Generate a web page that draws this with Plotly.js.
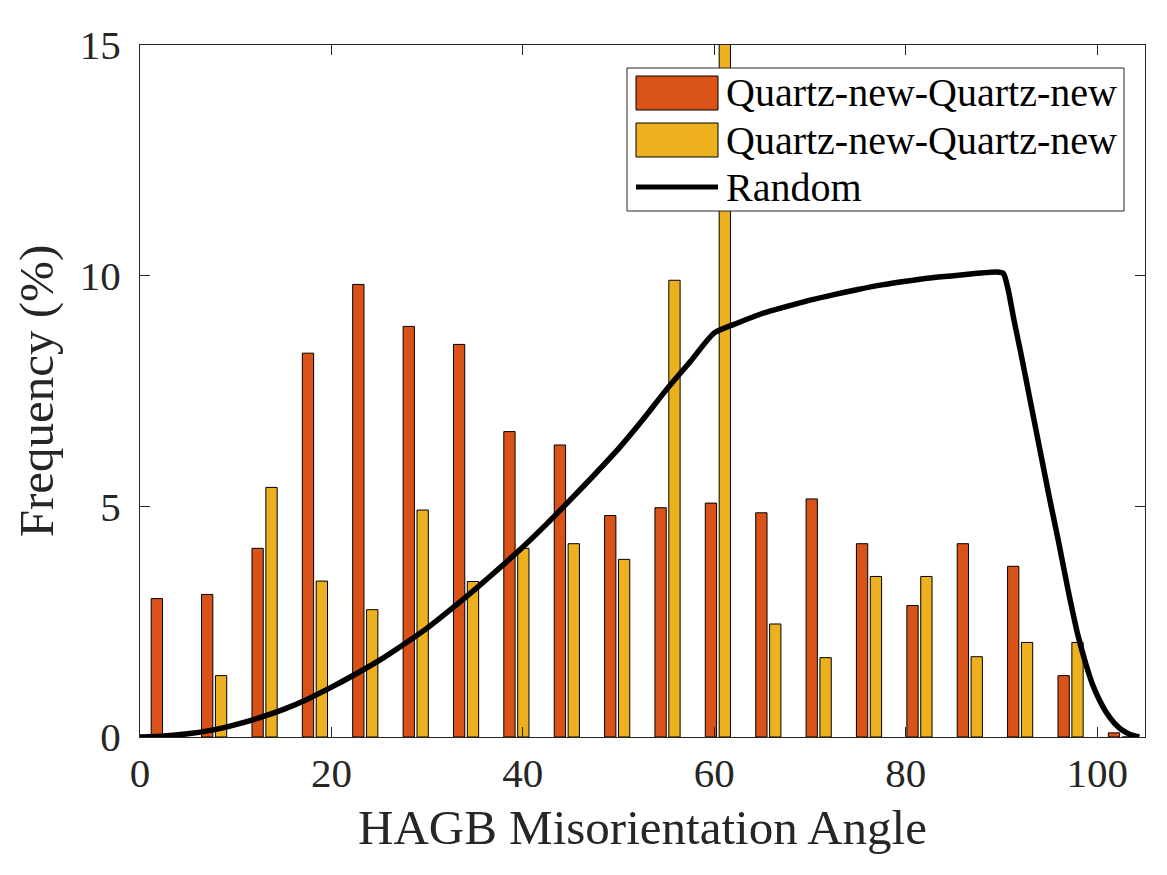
<!DOCTYPE html>
<html>
<head>
<meta charset="utf-8">
<script src="https://cdn.plot.ly/plotly-3.0.1.min.js"></script>
<style>
  html, body { margin: 0; padding: 0; background: #fff; }
  #chart { width: 1167px; height: 875px; }
</style>
</head>
<body>
<div id="chart"></div>
<script>
// Misorientation angle bins (degrees, bin centres)
const binCenters = [2.5, 7.76, 13.03, 18.29, 23.55, 28.82, 34.08, 39.34, 44.61, 49.87,
                    55.13, 60.39, 65.66, 70.92, 76.18, 81.45, 86.71, 91.97, 97.24, 102.5];

// Frequency (%) for the two boundary populations
const seriesA = [3.0, 3.09, 4.09, 8.32, 9.81, 8.90, 8.51, 6.62, 6.33, 4.80,
                 4.97, 5.07, 4.86, 5.16, 4.19, 2.85, 4.19, 3.70, 1.33, 0.09];
const seriesB = [0, 1.33, 5.41, 3.38, 2.76, 4.92, 3.37, 4.09, 4.19, 3.85,
                 9.90, 39.8, 2.45, 1.72, 3.48, 3.48, 1.74, 2.05, 2.05, 0];

// Random (uncorrelated) misorientation distribution
const randomAngle = [0, 2.5, 5, 7.5, 10, 12.5, 15, 17.5, 20, 22.5, 25, 27.5, 30, 32.5, 35,
                     37.5, 40, 42.5, 45, 47.5, 50, 52.5, 55, 57.5, 60,
                     62.5, 65, 67.5, 70, 72.5, 75, 77.5, 80, 82.5, 85, 87.5, 89.5, 90.2,
                     90.7, 91.3, 92, 93, 94, 95, 96, 97, 98, 98.8, 99.5, 100.2, 101,
                     101.8, 102.6, 103.4, 104.4];
const randomFreq = [0, 0.02, 0.07, 0.15, 0.27, 0.42, 0.6, 0.82, 1.08, 1.36, 1.66, 2.0, 2.36,
                    2.77, 3.2, 3.65, 4.12, 4.62, 5.15, 5.69, 6.25, 6.87, 7.53, 8.14, 8.76,
                    8.98, 9.18, 9.33, 9.47, 9.59, 9.70, 9.80, 9.88, 9.95, 10.0, 10.05, 10.08, 10.05,
                    9.7, 9.05, 8.35, 7.3, 6.25, 5.2, 4.2, 3.15, 2.2, 1.6, 1.15, 0.82, 0.52,
                    0.3, 0.15, 0.06, 0.0];

const names = ['Quartz-new-Quartz-new', 'Quartz-new-Quartz-new', 'Random'];
const colors = ['#D95319', '#EDB120', '#000000'];

const FONT = 'Liberation Serif, Times New Roman, serif';
const INK = '#262626';

const traces = [
  {
    type: 'bar', x: binCenters, y: seriesA, name: names[0],
    width: 1.18, offset: -1.33,
    marker: { color: colors[0], line: { color: '#000', width: 1 } },
    showlegend: false, hoverinfo: 'x+y'
  },
  {
    type: 'bar', x: binCenters, y: seriesB, name: names[1],
    width: 1.18, offset: 0.12,
    marker: { color: colors[1], line: { color: '#000', width: 1 } },
    showlegend: false, hoverinfo: 'x+y'
  },
  {
    type: 'scatter', mode: 'lines', x: randomAngle, y: randomFreq, name: names[2],
    line: { color: colors[2], width: 5.5, shape: 'spline', smoothing: 0.6 },
    showlegend: false
  }
];

// plot area in pixels
const L = 140, R = 1145, T = 45, B = 737;
const px = v => (v - L) / (R - L);
const py = v => (B - v) / (B - T);

// legend box drawn with shapes
const shapes = [
  { type: 'rect', xref: 'paper', yref: 'paper', x0: px(627), x1: px(1124), y0: py(211), y1: py(68),
    line: { color: INK, width: 1 }, fillcolor: '#fff', layer: 'above' },
  { type: 'rect', xref: 'paper', yref: 'paper', x0: px(636), x1: px(718), y0: py(110), y1: py(76),
    line: { color: '#000', width: 1 }, fillcolor: colors[0], layer: 'above' },
  { type: 'rect', xref: 'paper', yref: 'paper', x0: px(636), x1: px(718), y0: py(157), y1: py(123),
    line: { color: '#000', width: 1 }, fillcolor: colors[1], layer: 'above' },
  { type: 'line', xref: 'paper', yref: 'paper', x0: px(636), x1: px(718), y0: py(187), y1: py(187),
    line: { color: colors[2], width: 5 }, layer: 'above' }
];
const rowY = [93, 140, 187];
const annotations = names.map((n, i) => ({
  xref: 'paper', yref: 'paper', x: px(724), y: py(rowY[i]), xanchor: 'left', yanchor: 'middle',
  text: n, showarrow: false, font: { family: FONT, size: 40, color: '#000' }
}));

const layout = {
  width: 1167, height: 875,
  margin: { l: L, r: 1167 - R, t: T, b: 875 - B },
  paper_bgcolor: '#fff', plot_bgcolor: '#fff',
  barmode: 'overlay',
  font: { family: FONT, color: INK, size: 40 },
  xaxis: {
    range: [0, 105], tickvals: [0, 20, 40, 60, 80, 100],
    ticks: 'inside', ticklen: 10, tickcolor: INK, tickwidth: 1,
    showline: true, linecolor: INK, linewidth: 1, mirror: 'ticks',
    showgrid: false, zeroline: false,
    tickfont: { family: FONT, size: 41, color: INK },
    title: { text: 'HAGB Misorientation Angle', font: { family: FONT, size: 49, color: INK }, standoff: 14 }
  },
  yaxis: {
    range: [0, 15], tickvals: [0, 5, 10, 15],
    ticks: 'inside', ticklen: 10, tickcolor: INK, tickwidth: 1,
    showline: true, linecolor: INK, linewidth: 1, mirror: 'ticks',
    showgrid: false, zeroline: false,
    tickfont: { family: FONT, size: 41, color: INK },
    ticklabelstandoff: 10,
    title: { text: 'Frequency (%)', font: { family: FONT, size: 49, color: INK }, standoff: 10 }
  },
  shapes: shapes,
  annotations: annotations
};

Plotly.newPlot('chart', traces, layout, { displayModeBar: false, staticPlot: true });
</script>
</body>
</html>
